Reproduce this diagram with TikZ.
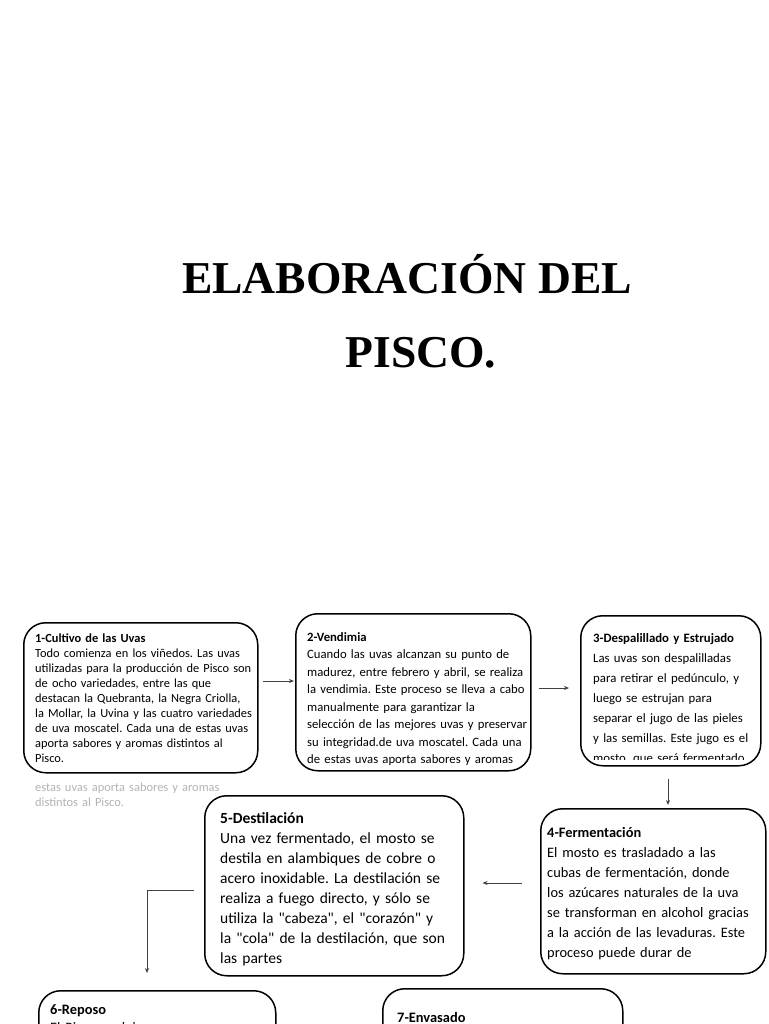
\documentclass[tikz,border=0pt]{standalone}
\usepackage{fontspec}
\setmainfont{Carlito}
\newfontfamily\titlefont{Liberation Serif}
\usetikzlibrary{arrows.meta,calc}
\newcommand\justline[1]{\makebox[\linewidth][s]{#1}}
\frenchspacing
\begin{document}
\begin{tikzpicture}[x=1pt,y=-1pt,
  box/.style={draw=black, line width=1.5pt, rounded corners=22pt, inner sep=0pt, anchor=north west},
  txt/.style={anchor=base west, inner sep=0pt, align=left},
  arr/.style={draw=black!75, line width=0.8pt, -{Stealth[length=5pt,width=4pt]}},
  ttl/.style={anchor=base, inner sep=0pt, font=\titlefont\bfseries\fontsize{45.6}{50}\selectfont},
]
\useasboundingbox (0,0) rectangle (768,1024);
\clip (0,0) rectangle (768,1024);

% helper coordinates for connector levels
\coordinate (y681) at (0,681);
\coordinate (y688) at (0,688);
\coordinate (x668) at (668,0);
\coordinate (y883) at (0,883);
\coordinate (y890) at (0,890);
\coordinate (x147) at (147,0);

% title
\node[ttl] (title1) at (407,293) {ELABORACIÓN DEL};
\node[ttl] (title2) at (421,367) {PISCO.};

% boxes
\node[box, minimum width=234pt, minimum height=150pt] (b1) at (23,622) {};
\node[box, minimum width=235pt, minimum height=157pt] (b2) at (295,613) {};
\node[box, minimum width=180pt, minimum height=150pt] (b3) at (580,615) {};
\node[box, minimum width=225pt, minimum height=165pt] (b4) at (540,808) {};
\node[box, minimum width=259pt, minimum height=180pt] (b5) at (204,795) {};
\node[box, minimum width=237pt, minimum height=150pt] (b6) at (38,990) {};
\node[box, minimum width=240pt, minimum height=150pt] (b7) at (382,988) {};

% texts
\node[txt, text width=300pt, font=\fontsize{12.4}{15}\selectfont] (t1) at (35,642) {%
\textbf{1-Cultivo de las Uvas}\\
Todo comienza en los viñedos. Las uvas\\
utilizadas para la producción de Pisco son\\
de ocho variedades, entre las que\\
destacan la Quebranta, la Negra Criolla,\\
la Mollar, la Uvina y las cuatro variedades\\
de uva moscatel. Cada una de estas uvas\\
aporta sabores y aromas distintos al\\
Pisco.};
\node[txt, text width=300pt, text=black!30, font=\fontsize{12.4}{15}\selectfont] (t1b) at (35,791) {%
estas uvas aporta sabores y aromas\\
distintos al Pisco.};

\node[txt, text width=300pt, font=\fontsize{12.7}{17.5}\selectfont] (t2) at (307,641) {%
\textbf{2-Vendimia}\\
Cuando las uvas alcanzan su punto de\\
madurez, entre febrero y abril, se realiza\\
la vendimia. Este proceso se lleva a cabo\\
manualmente para garantizar la\\
selección de las mejores uvas y preservar\\
su integridad.de uva moscatel. Cada una\\
de estas uvas aporta sabores y aromas};

\begin{scope}
\clip (580,615) rectangle (760,759);
\node[txt, text width=161pt, font=\fontsize{12.8}{20}\selectfont] (t3) at (593,642) {%
\textbf{3-Despalillado y Estrujado}\\
\justline{Las uvas son despalilladas}\\
\justline{para retirar el pedúnculo, y}\\
\justline{luego se estrujan para}\\
\justline{separar el jugo de las pieles}\\
\justline{y las semillas. Este jugo es el}\\
\justline{mosto, que será fermentado}};
\end{scope}

\node[txt, text width=300pt, font=\fontsize{14.4}{20}\selectfont] (t4) at (547,837) {%
\textbf{4-Fermentación}\\
El mosto es trasladado a las\\
cubas de fermentación, donde\\
los azúcares naturales de la uva\\
se transforman en alcohol gracias\\
a la acción de las levaduras. Este\\
proceso puede durar de};

\node[txt, text width=300pt, font=\fontsize{15.5}{20}\selectfont] (t5) at (220,823) {%
\textbf{5-Destilación}\\
Una vez fermentado, el mosto se\\
destila en alambiques de cobre o\\
acero inoxidable. La destilación se\\
realiza a fuego directo, y sólo se\\
utiliza la \textquotedbl cabeza\textquotedbl, el \textquotedbl corazón\textquotedbl{} y\\
la \textquotedbl cola\textquotedbl{} de la destilación, que son\\
las partes};

\node[txt, text width=225pt, font=\fontsize{14.4}{18}\selectfont] (t6) at (50,1014) {%
\textbf{6-Reposo}\\
El Pisco se deja reposar};

\node[txt, text width=225pt, font=\fontsize{14.4}{18}\selectfont] (t7) at (397,1022) {%
\textbf{7-Envasado}};

% connectors
\draw[arr, shorten <=4pt, shorten >=1pt] (b1.east |- y681) -- (b2.west |- y681);
\draw[arr, shorten <=7pt, shorten >=11pt] (b2.east |- y688) -- (b3.west |- y688);
\draw[arr, shorten <=12pt, shorten >=3pt] (b3.south -| x668) -- (b4.north -| x668);
\draw[arr, shorten <=18pt, shorten >=18pt] (b4.west |- y883) -- (b5.east |- y883);
\draw[arr, shorten <=10pt, shorten >=17pt] (b5.west |- y890) -| (b6.north -| x147);
\end{tikzpicture}
\end{document}
